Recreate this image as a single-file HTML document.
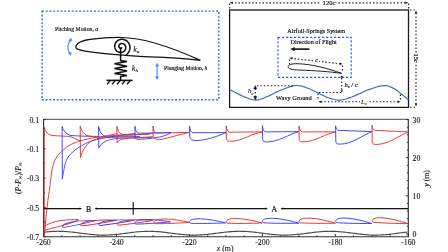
<!DOCTYPE html>
<html><head><meta charset="utf-8"><style>
html,body{margin:0;padding:0;background:#fff;width:448px;height:252px;overflow:hidden}
svg{display:block}
.t{font-family:"Liberation Serif","Times New Roman",serif;fill:#111;stroke:#111;stroke-width:0.18px}
.t2{font-family:"Liberation Serif","Times New Roman",serif;fill:#111;stroke:#111;stroke-width:0.1px}
</style></head><body>
<svg width="448" height="252" viewBox="0 0 448 252">
<rect x="42.1" y="11.1" width="176.7" height="88.7" fill="none" stroke="#3f6fc8" stroke-width="1.4" stroke-dasharray="2 1.7"/>
<text x="55" y="30.8" class="t" font-size="6.8" textLength="43.3" lengthAdjust="spacingAndGlyphs">Pitching Motion, <tspan font-style="italic">α</tspan></text>
<path d="M75.8,47.3 C76,43 82,40.5 90,39.3 C100,38 110,37.4 121,37.5 C141,37.7 170,46.5 200.4,60.4 C185,58.5 165,57.3 150,56.9 C135,56.3 120,55.2 110,54.2 C100,53.2 90,51.9 85,51.1 C79,50.1 75.6,49 75.8,47.3 Z" fill="none" stroke="#111" stroke-width="1.25"/>
<polyline points="121.84,47.35 121.84,47.43 121.83,47.51 121.81,47.60 121.78,47.68 121.74,47.76 121.69,47.85 121.63,47.93 121.56,48.00 121.47,48.07 121.38,48.13 121.28,48.19 121.17,48.24 121.06,48.28 120.93,48.31 120.80,48.32 120.67,48.33 120.53,48.32 120.39,48.30 120.25,48.26 120.11,48.21 119.97,48.15 119.83,48.07 119.69,47.98 119.56,47.87 119.44,47.75 119.33,47.62 119.23,47.47 119.13,47.32 119.05,47.15 118.99,46.97 118.94,46.78 118.90,46.58 118.88,46.38 118.88,46.17 118.90,45.96 118.93,45.74 118.99,45.53 119.06,45.32 119.15,45.11 119.27,44.90 119.40,44.70 119.55,44.52 119.72,44.34 119.91,44.17 120.11,44.02 120.33,43.88 120.56,43.76 120.81,43.66 121.07,43.57 121.34,43.51 121.61,43.47 121.90,43.46 122.19,43.46 122.48,43.50 122.77,43.55 123.06,43.63 123.35,43.74 123.63,43.87 123.90,44.03 124.16,44.21 124.41,44.42 124.64,44.64 124.86,44.89 125.06,45.16 125.24,45.45 125.39,45.76 125.52,46.08 125.63,46.42 125.71,46.77 125.76,47.12 125.78,47.49 125.77,47.86 125.73,48.23 125.66,48.60 125.55,48.97 125.42,49.33 125.26,49.69 125.06,50.03 124.83,50.36 124.58,50.67 124.30,50.97 123.99,51.24 123.66,51.49 123.30,51.72 122.92,51.91 122.53,52.08 122.11,52.21 121.69,52.32 121.25,52.38 120.81,52.42 120.35,52.41 119.90,52.37 119.45,52.29 119.00,52.17 118.56,52.02 118.13,51.83 117.71,51.60 117.31,51.33 116.92,51.03 116.56,50.70 116.23,50.34 115.92,49.95 115.64,49.53 115.40,49.08 115.19,48.62 115.02,48.13 114.89,47.63 114.80,47.11 114.75,46.58 114.74,46.05 114.78,45.52 114.86,44.98 114.99,44.45 115.15,43.93 115.37,43.41 115.62,42.92 115.92,42.44 116.26,41.98 116.63,41.55 117.05,41.15 117.49,40.78 117.97,40.45 118.48,40.15 119.02,39.90 119.58,39.68 120.15,39.52 120.75,39.39 121.35,39.32 121.97,39.30 122.59,39.32 123.20,39.40 123.82,39.52 124.42,39.70 125.02,39.93 125.60,40.20 126.15,40.53 126.69,40.90 127.19,41.31 127.66,41.77 128.10,42.27 128.50,42.81 128.85,43.38 129.16,43.98 129.42,44.60 129.63,45.25 129.79,45.92 129.90,46.61 129.95,47.30 129.94,48.00 129.87,48.70 129.75,49.40 129.58,50.09 129.34,50.77 129.05,51.43 128.70,52.07 128.31,52.68 127.86,53.27 127.36,53.81 126.81,54.32 126.23,54.79" fill="none" stroke="#111" stroke-width="1.55"/>
<path d="M120.6,47.5 L120.6,60.6 L127,61.5 L114.5,63.8 L127,66.2 L114.5,68.6 L127,71 L114.5,73.4 L127,75.6 L120.6,76.6 L120.6,80.3" fill="none" stroke="#111" stroke-width="1.5" stroke-linejoin="miter"/>
<path d="M106.5,80.4 L132.6,80.4" stroke="#111" stroke-width="1.6"/>
<path d="M110.2,80.6 L107.0,84.2" stroke="#111" stroke-width="1.35"/>
<path d="M115.2,80.6 L112.0,84.2" stroke="#111" stroke-width="1.35"/>
<path d="M120.2,80.6 L117.0,84.2" stroke="#111" stroke-width="1.35"/>
<path d="M125.2,80.6 L122.0,84.2" stroke="#111" stroke-width="1.35"/>
<path d="M130.2,80.6 L126.99999999999999,84.2" stroke="#111" stroke-width="1.35"/>
<text x="133.2" y="51.6" class="t2" font-size="8.2" font-style="italic">k<tspan font-size="5" dy="1.2">α</tspan></text>
<text x="131.8" y="71.2" class="t2" font-size="8.2" font-style="italic">k<tspan font-size="5" dy="1.2">h</tspan></text>
<text x="164.1" y="69.9" class="t" font-size="6.0" textLength="43.2" lengthAdjust="spacingAndGlyphs">Plunging Motion, <tspan font-style="italic">h</tspan></text>
<path d="M70.3,40.2 Q65.6,47 69.9,53.8" fill="none" stroke="#4b8ff2" stroke-width="1.2"/>
<path d="M71.3,38.3 L68.5,40.3 L71.5,41.3 Z M70.8,55.3 L68.3,53.2 L71.3,52.5 Z" fill="#4b8ff2" stroke="#4b8ff2" stroke-width="0.5" stroke-linejoin="round"/>
<path d="M157.1,65 L157.1,77.8" stroke="#4b8ff2" stroke-width="1.2"/>
<path d="M157.1,63.2 L155.5,66.2 L158.7,66.2 Z M157.1,79.6 L155.5,76.6 L158.7,76.6 Z" fill="#4b8ff2" stroke="#4b8ff2" stroke-width="0.5" stroke-linejoin="round"/>
<rect x="229.6" y="10" width="178.9" height="97.4" fill="none" stroke="#1a1a1a" stroke-width="1.3"/>
<path d="M231.5,2.8 L406,2.8" stroke="#222" stroke-width="1.15" stroke-dasharray="1.5 1.95"/>
<path d="M229.8,2.8 L232.8,1.5 L232.8,4.1 Z M408.2,2.8 L405.2,1.5 L405.2,4.1 Z" fill="#222"/>
<path d="M229.6,3.5 L229.6,9.2 M408.6,3.5 L408.6,9.2" stroke="#222" stroke-width="1.15" stroke-dasharray="1.5 1.95"/>
<rect x="320.8" y="0" width="15.6" height="5.5" fill="#fff"/>
<text x="329" y="4.7" class="t" font-size="6.6" text-anchor="middle">120<tspan font-style="italic">c</tspan></text>
<path d="M410,10 L416,10 M410,107.2 L416,107.2" stroke="#222" stroke-width="1.15" stroke-dasharray="1.5 1.95"/>
<path d="M416,13 L416,104.5" stroke="#222" stroke-width="1.15" stroke-dasharray="1.5 1.95"/>
<path d="M416,10.6 L414.7,13.4 L417.3,13.4 Z M416,106.4 L414.7,103.6 L417.3,103.6 Z" fill="#222"/>
<rect x="413" y="53.3" width="6" height="9.5" fill="#fff"/>
<text x="0" y="0" class="t" font-size="6.4" text-anchor="middle" transform="translate(413.9,58.1) rotate(90)">15<tspan font-style="italic">c</tspan></text>
<text x="287.3" y="33.4" class="t" font-size="6.2" textLength="57.8" lengthAdjust="spacingAndGlyphs">Airfoil-Springs System</text>
<rect x="278" y="37.4" width="73.2" height="39.9" fill="none" stroke="#3563c0" stroke-width="1.15" stroke-dasharray="2.3 1.7"/>
<text x="290.5" y="44" class="t" font-size="6.4" textLength="46.2" lengthAdjust="spacingAndGlyphs">Direction of Flight</text>
<path d="M293,49.1 L309.3,49.1" stroke="#111" stroke-width="1.6"/>
<path d="M290.3,49.1 L294.6,46.9 L294.6,51.3 Z" fill="#111"/>
<path d="M288.1,66.4 C288.5,64.5 292,63.7 297,63.7 C312,64 328,68.5 341.7,73.4 C330,71.6 315,70.6 300,70.1 C292,69.9 288,69 288.1,66.4 Z" fill="none" stroke="#222" stroke-width="1"/>
<path d="M291,58.3 L341,63.9" stroke="#222" stroke-width="1.15" stroke-dasharray="1.5 1.95"/>
<path d="M289.5,58.1 L292.5,57.1 L292.2,59.7 Z M342.6,64.1 L339.6,65.1 L339.9,62.5 Z" fill="#222"/>
<path d="M289.6,59.5 L289.6,65.5 M342.5,65.5 L342.5,72.5" stroke="#222" stroke-width="1.15" stroke-dasharray="1.5 1.95"/>
<rect x="314.5" y="57" width="4.5" height="5" fill="#fff"/>
<text x="316.7" y="61.6" class="t" font-size="6.6" text-anchor="middle" font-style="italic">c</text>
<circle cx="341.7" cy="76.7" r="1" fill="#111"/>
<polyline points="229.60,89.40 231.06,90.17 233.09,91.27 235.49,92.56 238.07,93.90 240.63,95.16 243.00,96.20 245.20,97.11 247.40,98.00 249.59,98.82 251.76,99.49 253.90,99.93 256.00,100.10 258.06,99.92 260.07,99.44 262.06,98.75 264.04,97.92 266.01,97.04 268.00,96.20 269.96,95.35 271.87,94.41 273.78,93.42 275.73,92.41 277.79,91.43 280.00,90.50 282.43,89.54 285.05,88.49 287.77,87.47 290.50,86.56 293.14,85.87 295.60,85.50 297.88,85.49 300.06,85.79 302.15,86.30 304.16,86.94 306.11,87.64 308.00,88.30 309.79,88.96 311.47,89.68 313.09,90.46 314.68,91.26 316.30,92.08 318.00,92.90 319.78,93.76 321.60,94.67 323.45,95.61 325.31,96.50 327.17,97.32 329.00,98.00 330.82,98.58 332.64,99.09 334.45,99.53 336.25,99.85 338.04,100.05 339.80,100.10 341.54,99.97 343.25,99.67 344.95,99.24 346.64,98.72 348.32,98.16 350.00,97.60 351.70,97.00 353.42,96.33 355.14,95.62 356.82,94.89 358.45,94.17 360.00,93.50 361.36,92.88 362.53,92.29 363.64,91.72 364.83,91.14 366.24,90.54 368.00,89.90 370.25,89.13 372.90,88.21 375.76,87.28 378.66,86.44 381.40,85.81 383.80,85.50 385.86,85.56 387.73,85.90 389.45,86.45 391.04,87.13 392.55,87.88 394.00,88.60 395.35,89.34 396.56,90.16 397.68,91.03 398.76,91.94 399.85,92.87 401.00,93.80 402.30,94.80 403.71,95.90 405.14,97.03 406.47,98.07 407.59,98.96 408.40,99.60" fill="none" stroke="#3f6fc8" stroke-width="1.2"/>
<path d="M255.3,88.5 L255.3,97" stroke="#222" stroke-width="1.15" stroke-dasharray="1.5 1.95"/>
<path d="M255.3,85.6 L253.8,88.9 L256.8,88.9 Z M255.3,99.8 L253.8,96.5 L256.8,96.5 Z" fill="#111" stroke="#111" stroke-width="0.5" stroke-linejoin="round"/>
<path d="M257,85.7 L295,85.7" stroke="#222" stroke-width="1.15" stroke-dasharray="1.5 1.95"/>
<text x="247.9" y="93.4" class="t2" font-size="6.6" font-style="italic">h<tspan font-size="4.6" dy="1.4">c</tspan></text>
<text x="276.1" y="99.8" class="t" font-size="6.4" textLength="35.6" lengthAdjust="spacingAndGlyphs">Wavy Ground</text>
<path d="M341.7,78 L341.7,91.5 M319,92.5 L341.7,92.5" stroke="#222" stroke-width="1.15" stroke-dasharray="1.5 1.95"/>
<path d="M341.7,92.6 L340.5,90.2 L342.9,90.2 Z" fill="#222"/>
<text x="344.4" y="86.8" class="t" font-size="6.6" font-style="italic">h<tspan font-size="4.6" dy="1.4">s</tspan><tspan font-style="normal" dy="-1.4"> / </tspan>c</text>
<path d="M318,93.5 L318,100.5 M321,101.7 L399.8,101.7 M400.4,94.6 L400.4,101.2" stroke="#222" stroke-width="1.15" stroke-dasharray="1.5 1.95"/>
<path d="M318.3,101.7 L321.3,100.4 L321.3,103 Z M400.6,101.7 L397.6,100.4 L397.6,103 Z" fill="#222"/>
<rect x="360" y="99" width="7" height="6" fill="#fff"/>
<text x="361" y="103.7" class="t2" font-size="6.6" font-style="italic">L<tspan font-size="4.6" dy="1.4">c</tspan></text>
<path d="M43.6,119.39999999999999 L408.3,119.39999999999999" stroke="#6e6e6e" stroke-width="1.1"/>
<path d="M43.6,118.89999999999999 L43.6,236.7 L408.3,236.7 L408.3,118.89999999999999" fill="none" stroke="#333" stroke-width="1.15"/>
<path d="M43.60,236.7 L43.60,234.1" stroke="#222" stroke-width="0.9"/>
<path d="M61.84,236.7 L61.84,235.2" stroke="#222" stroke-width="0.9"/>
<path d="M80.07,236.7 L80.07,235.2" stroke="#222" stroke-width="0.9"/>
<path d="M98.31,236.7 L98.31,235.2" stroke="#222" stroke-width="0.9"/>
<path d="M116.54,236.7 L116.54,234.1" stroke="#222" stroke-width="0.9"/>
<path d="M134.78,236.7 L134.78,235.2" stroke="#222" stroke-width="0.9"/>
<path d="M153.01,236.7 L153.01,235.2" stroke="#222" stroke-width="0.9"/>
<path d="M171.25,236.7 L171.25,235.2" stroke="#222" stroke-width="0.9"/>
<path d="M189.48,236.7 L189.48,234.1" stroke="#222" stroke-width="0.9"/>
<path d="M207.71,236.7 L207.71,235.2" stroke="#222" stroke-width="0.9"/>
<path d="M225.95,236.7 L225.95,235.2" stroke="#222" stroke-width="0.9"/>
<path d="M244.18,236.7 L244.18,235.2" stroke="#222" stroke-width="0.9"/>
<path d="M262.42,236.7 L262.42,234.1" stroke="#222" stroke-width="0.9"/>
<path d="M280.65,236.7 L280.65,235.2" stroke="#222" stroke-width="0.9"/>
<path d="M298.89,236.7 L298.89,235.2" stroke="#222" stroke-width="0.9"/>
<path d="M317.12,236.7 L317.12,235.2" stroke="#222" stroke-width="0.9"/>
<path d="M335.36,236.7 L335.36,234.1" stroke="#222" stroke-width="0.9"/>
<path d="M353.60,236.7 L353.60,235.2" stroke="#222" stroke-width="0.9"/>
<path d="M371.83,236.7 L371.83,235.2" stroke="#222" stroke-width="0.9"/>
<path d="M390.06,236.7 L390.06,235.2" stroke="#222" stroke-width="0.9"/>
<path d="M408.30,236.7 L408.30,234.1" stroke="#222" stroke-width="0.9"/>
<text x="43.60" y="244.9" class="t2" font-size="7.8" text-anchor="middle">-260</text>
<text x="116.54" y="244.9" class="t2" font-size="7.8" text-anchor="middle">-240</text>
<text x="189.48" y="244.9" class="t2" font-size="7.8" text-anchor="middle">-220</text>
<text x="262.42" y="244.9" class="t2" font-size="7.8" text-anchor="middle">-200</text>
<text x="335.36" y="244.9" class="t2" font-size="7.8" text-anchor="middle">-180</text>
<text x="408.30" y="244.9" class="t2" font-size="7.8" text-anchor="middle">-160</text>
<text x="216.8" y="250.8" class="t2" font-size="7.8"><tspan font-style="italic">x</tspan> (m)</text>
<path d="M43.6,119.60 L45.800000000000004,119.60" stroke="#222" stroke-width="0.9"/>
<path d="M43.6,134.24 L45.0,134.24" stroke="#222" stroke-width="0.9"/>
<path d="M43.6,148.88 L45.800000000000004,148.88" stroke="#222" stroke-width="0.9"/>
<path d="M43.6,163.52 L45.0,163.52" stroke="#222" stroke-width="0.9"/>
<path d="M43.6,178.16 L45.800000000000004,178.16" stroke="#222" stroke-width="0.9"/>
<path d="M43.6,192.80 L45.0,192.80" stroke="#222" stroke-width="0.9"/>
<path d="M43.6,207.44 L45.800000000000004,207.44" stroke="#222" stroke-width="0.9"/>
<path d="M43.6,222.08 L45.0,222.08" stroke="#222" stroke-width="0.9"/>
<path d="M43.6,236.72 L45.800000000000004,236.72" stroke="#222" stroke-width="0.9"/>
<text x="39.2" y="122.70" class="t2" font-size="7.8" text-anchor="end">0.1</text>
<text x="39.2" y="151.98" class="t2" font-size="7.8" text-anchor="end">-0.1</text>
<text x="39.2" y="181.26" class="t2" font-size="7.8" text-anchor="end">-0.3</text>
<text x="39.2" y="210.54" class="t2" font-size="7.8" text-anchor="end">-0.5</text>
<text x="39.2" y="239.82" class="t2" font-size="7.8" text-anchor="end">-0.7</text>
<text x="0" y="0" class="t2" font-size="7.8" text-anchor="middle" transform="translate(20.8,178.2) rotate(-90)">(<tspan font-style="italic">P</tspan>-<tspan font-style="italic">P</tspan><tspan font-size="5.2" dy="1.5">∞</tspan><tspan dy="-1.5">)/</tspan><tspan font-style="italic">P</tspan><tspan font-size="5.2" dy="1.5">∞</tspan></text>
<path d="M408.3,119.60 L405.90000000000003,119.60" stroke="#222" stroke-width="0.9"/>
<path d="M408.3,127.22 L406.90000000000003,127.22" stroke="#222" stroke-width="0.9"/>
<path d="M408.3,134.84 L406.90000000000003,134.84" stroke="#222" stroke-width="0.9"/>
<path d="M408.3,142.46 L406.90000000000003,142.46" stroke="#222" stroke-width="0.9"/>
<path d="M408.3,150.08 L406.90000000000003,150.08" stroke="#222" stroke-width="0.9"/>
<path d="M408.3,157.70 L405.90000000000003,157.70" stroke="#222" stroke-width="0.9"/>
<path d="M408.3,165.32 L406.90000000000003,165.32" stroke="#222" stroke-width="0.9"/>
<path d="M408.3,172.94 L406.90000000000003,172.94" stroke="#222" stroke-width="0.9"/>
<path d="M408.3,180.56 L406.90000000000003,180.56" stroke="#222" stroke-width="0.9"/>
<path d="M408.3,188.18 L406.90000000000003,188.18" stroke="#222" stroke-width="0.9"/>
<path d="M408.3,195.80 L405.90000000000003,195.80" stroke="#222" stroke-width="0.9"/>
<path d="M408.3,203.42 L406.90000000000003,203.42" stroke="#222" stroke-width="0.9"/>
<path d="M408.3,211.04 L406.90000000000003,211.04" stroke="#222" stroke-width="0.9"/>
<path d="M408.3,218.66 L406.90000000000003,218.66" stroke="#222" stroke-width="0.9"/>
<path d="M408.3,226.28 L406.90000000000003,226.28" stroke="#222" stroke-width="0.9"/>
<path d="M408.3,233.90 L405.90000000000003,233.90" stroke="#222" stroke-width="0.9"/>
<text x="412.6" y="122.50" class="t2" font-size="7.8">30</text>
<text x="412.6" y="160.60" class="t2" font-size="7.8">20</text>
<text x="412.6" y="198.70" class="t2" font-size="7.8">10</text>
<text x="412.6" y="236.80" class="t2" font-size="7.8">0</text>
<text x="0" y="0" class="t2" font-size="7.8" text-anchor="middle" transform="translate(429.3,178.4) rotate(-90)"><tspan font-style="italic">y</tspan> (m)</text>
<path d="M226.2,125.8 C226.6,128.8 227.2,132.0 229.7,132.2 L262.7,131.9 M226.2,125.8 L226.4,138.8 C226.6,141.0 228.2,141.4 231.2,141.3 C242.2,141.1 253.2,132.8 262.7,131.9" fill="none" stroke="#e83232" stroke-width="0.95"/>
<path d="M262.4,125.6 C262.8,128.6 263.4,131.7 265.9,131.9 L298.9,131.6 M262.4,125.6 L262.6,139.4 C262.8,141.6 264.4,142.0 267.4,141.9 C278.4,141.8 289.4,134.2 298.9,131.6" fill="none" stroke="#3840f8" stroke-width="0.95"/>
<path d="M299.0,125.8 C299.4,128.8 300.0,131.7 302.5,131.9 L335.5,131.9 M299.0,125.8 L299.2,139.4 C299.4,141.6 301.0,142.0 304.0,141.9 C315.0,141.7 326.1,133.4 335.5,131.9" fill="none" stroke="#e83232" stroke-width="0.95"/>
<path d="M335.6,125.8 C336.0,128.8 336.6,130.2 339.1,130.4 L372.1,131.6 M335.6,125.8 L335.8,141.6 C336.0,143.8 337.6,144.2 340.6,144.1 C351.6,144.1 362.7,135.3 372.1,131.6" fill="none" stroke="#3840f8" stroke-width="0.95"/>
<path d="M372.0,125.2 C372.4,128.2 373.0,130.2 375.5,130.4 L408.5,131.9 M372.0,125.2 L372.2,141.9 C372.4,144.1 374.0,144.5 377.0,144.4 C388.0,144.4 399.1,135.7 408.5,131.9" fill="none" stroke="#e83232" stroke-width="0.95"/>
<path d="M153.0,126 L153.2,136.3 C154,139 157,139.8 160,139.7 C170,137.5 180,134.5 189.2,132.4 M153.0,126 C153.4,130 154,132.6 156,133 L189.2,132.4" fill="none" stroke="#e83232" stroke-width="0.95"/>
<path d="M189.5,126 C189.9,129 190.5,132.4 193,132.7 L226,132.6 M189.5,126 L189.7,136.5 C190,139.5 192.5,140.7 197,140.6 C206,140 216,137 226,132.6" fill="none" stroke="#3840f8" stroke-width="0.95"/>
<path d="M44.3,127.4 C45.5,132 48,134.8 52,135.4 C58,136.1 66,136 70,136.6 C74,137.8 77,139.5 80.2,140.8" fill="none" stroke="#e83232" stroke-width="0.95"/>
<path d="M43.9,127.4 L43.9,236.4" fill="none" stroke="#b01c1c" stroke-width="1.3"/>
<polyline points="44.70,235.00 44.81,233.25 44.97,230.78 45.16,227.90 45.37,224.87 45.60,222.00 45.85,219.23 46.12,216.38 46.41,213.50 46.71,210.69 47.00,208.00 47.30,205.39 47.61,202.82 47.92,200.34 48.22,198.05 48.50,196.00 48.75,194.31 48.97,192.94 49.18,191.70 49.39,190.45 49.60,189.00 49.82,187.34 50.03,185.59 50.25,183.77 50.47,181.90 50.70,180.00 50.92,178.06 51.13,176.06 51.36,174.03 51.63,172.00 52.00,170.00 52.44,167.99 52.94,165.94 53.51,163.92 54.16,161.99 54.90,160.20 55.81,158.51 56.87,156.88 57.99,155.38 59.03,154.07 59.90,153.00 60.50,152.31 60.89,151.96 61.23,151.75 61.66,151.50 62.30,151.00 63.21,150.19 64.29,149.20 65.47,148.12 66.70,147.09 67.90,146.20 69.09,145.47 70.32,144.83 71.56,144.25 72.79,143.71 74.00,143.20 75.17,142.72 76.32,142.28 77.47,141.88 78.62,141.49 79.80,141.10 80.99,140.72 82.18,140.35 83.39,139.99 84.66,139.64 86.00,139.30 87.39,138.97 88.80,138.64 90.29,138.32 91.91,138.01 93.70,137.70 95.67,137.39 97.78,137.07 100.04,136.77 102.45,136.47 105.00,136.20 107.52,135.95 110.01,135.72 112.74,135.51 115.98,135.30 120.00,135.10 125.52,134.89 132.36,134.68 139.44,134.49 145.68,134.32 150.00,134.20" fill="none" stroke="#e83232" stroke-width="0.95"/>
<path d="M62.1,126.4 C63,130.5 66,134 70,135.3 C75,136.1 85,136.2 98.6,136.4" fill="none" stroke="#3840f8" stroke-width="0.95"/>
<path d="M62.1,126.4 L62.3,179" fill="none" stroke="#3840f8" stroke-width="0.95"/>
<polyline points="62.30,179.00 62.51,177.73 62.81,175.92 63.16,173.82 63.54,171.70 63.90,169.80 64.24,168.12 64.58,166.49 64.94,164.92 65.34,163.42 65.80,162.00 66.31,160.67 66.86,159.42 67.46,158.24 68.13,157.11 68.90,156.00 69.78,154.92 70.76,153.89 71.81,152.89 72.90,151.93 74.00,151.00 75.05,150.12 76.07,149.31 77.15,148.51 78.37,147.68 79.80,146.80 81.48,145.81 83.36,144.74 85.39,143.65 87.52,142.62 89.70,141.70 91.94,140.89 94.29,140.15 96.71,139.48 99.18,138.90 101.70,138.40 104.09,138.02 106.36,137.75 108.78,137.55 111.57,137.38 115.00,137.20 119.65,137.00 125.36,136.81 131.24,136.64 136.41,136.50 140.00,136.40" fill="none" stroke="#3840f8" stroke-width="0.95"/>
<path d="M80.2,126.1 C81,130 83,133 86.3,135.2 C90,136.6 95,137.2 99.7,137.2 C105,136.8 110,135 116.8,133.6" fill="none" stroke="#e83232" stroke-width="0.95"/>
<path d="M80.2,126.1 L80.4,157.6 C81.5,153 84,148 89.4,142.2 C93,139.8 98,138.3 103.8,137.4 C110,136.5 118,136.3 128,136.1" fill="none" stroke="#e83232" stroke-width="0.95"/>
<path d="M98.6,126.5 C99.5,130 100.5,133 102,134.3 C104,136 106,136.9 108,137 C115,136.5 125,134.5 135,133.5" fill="none" stroke="#3840f8" stroke-width="0.95"/>
<path d="M98.6,126.5 L98.8,147.8 C100,145.5 102,143 106,141 C110,139.3 116,138.4 124,138 C135,137.8 145,137.6 152,137.2" fill="none" stroke="#3840f8" stroke-width="0.95"/>
<path d="M116.9,126.3 C117.6,130 118.8,132.5 121,133.8 C124,135 128,135.4 132,135.2 C140,134.6 147,133.6 153.2,133" fill="none" stroke="#e83232" stroke-width="0.95"/>
<path d="M116.9,126.3 L117.1,142.7 C118.3,140.8 120.5,139.5 124,138.8 C130,138 138,137.6 146,137.2 C150,137 152,136.9 153.2,136.6" fill="none" stroke="#e83232" stroke-width="0.95"/>
<path d="M135.0,126.3 C135.5,130 136.2,132.5 138,133.2 C145,133.3 155,133 171,132.5" fill="none" stroke="#3840f8" stroke-width="0.95"/>
<path d="M135.0,126.3 L135.1,138.2 C136,139.3 138,139.4 141,139.2 C148,138.8 155,138 160,137 C165,135.8 168,134.3 171,132.6" fill="none" stroke="#3840f8" stroke-width="0.95"/>
<path d="M44,208.6 L80.5,208.6 M95.5,208.6 L266.5,208.6 M281.5,208.6 L408,208.6" stroke="#111" stroke-width="1.15"/>
<path d="M82,208.6 L79.5,207.4 L79.5,209.8 Z M94.6,208.6 L97.1,207.4 L97.1,209.8 Z M267.8,208.6 L265.3,207.4 L265.3,209.8 Z M280.6,208.6 L283.1,207.4 L283.1,209.8 Z" fill="#111"/>
<path d="M133.2,202 L133.2,214.8" stroke="#111" stroke-width="1.15"/>
<text x="88.5" y="211.9" class="t" font-size="7.8" text-anchor="middle">B</text>
<text x="274.2" y="211.7" class="t" font-size="7.8" text-anchor="middle">A</text>
<polyline points="44.2,232.15 45.7,231.99 47.2,231.84 48.7,231.71 50.2,231.60 51.7,231.50 53.2,231.42 54.7,231.36 56.2,231.32 57.7,231.30 59.2,231.30 60.7,231.32 62.2,231.37 63.7,231.43 65.2,231.51 66.7,231.61 68.2,231.72 69.7,231.85 71.2,232.00 72.7,232.16 74.2,232.33 75.7,232.51 77.2,232.70 78.7,232.89 80.2,233.09 81.7,233.29 83.2,233.48 84.7,233.68 86.2,233.86 87.7,234.05 89.2,234.22 90.7,234.38 92.2,234.53 93.7,234.66 95.2,234.78 96.7,234.88 98.2,234.96 99.7,235.03 101.2,235.07 102.7,235.10 104.2,235.10 105.7,235.08 107.2,235.04 108.7,234.99 110.2,234.91 111.7,234.82 113.2,234.70 114.7,234.57 116.2,234.43 117.7,234.27 119.2,234.10 120.7,233.93 122.2,233.74 123.7,233.55 125.2,233.35 126.7,233.15 128.2,232.96 129.7,232.76 131.2,232.57 132.7,232.39 134.2,232.22 135.7,232.05 137.2,231.90 138.7,231.76 140.2,231.64 141.7,231.54 143.2,231.45 144.7,231.38 146.2,231.34 147.7,231.31 149.2,231.30 150.7,231.31 152.2,231.35 153.7,231.40 155.2,231.47 156.7,231.56 158.2,231.67 159.7,231.80 161.2,231.94 162.7,232.09 164.2,232.26 165.7,232.44 167.2,232.62 168.7,232.81 170.2,233.01 171.7,233.21 173.2,233.40 174.7,233.60 176.2,233.79 177.7,233.97 179.2,234.15 180.7,234.32 182.2,234.47 183.7,234.61 185.2,234.73 186.7,234.84 188.2,234.93 189.7,235.00 191.2,235.06 192.7,235.09 194.2,235.10 195.7,235.09 197.2,235.06 198.7,235.01 200.2,234.94 201.7,234.86 203.2,234.75 204.7,234.63 206.2,234.49 207.7,234.34 209.2,234.17 210.7,234.00 212.2,233.81 213.7,233.62 215.2,233.43 216.7,233.23 218.2,233.04 219.7,232.84 221.2,232.65 222.7,232.46 224.2,232.28 225.7,232.12 227.2,231.96 228.7,231.82 230.2,231.69 231.7,231.58 233.2,231.48 234.7,231.41 236.2,231.35 237.7,231.32 239.2,231.30 240.7,231.31 242.2,231.33 243.7,231.38 245.2,231.44 246.7,231.53 248.2,231.63 249.7,231.75 251.2,231.88 252.7,232.03 254.2,232.19 255.7,232.37 257.2,232.55 258.7,232.74 260.2,232.93 261.7,233.13 263.2,233.33 264.7,233.52 266.2,233.71 267.7,233.90 269.2,234.08 270.7,234.25 272.2,234.41 273.7,234.56 275.2,234.69 276.7,234.80 278.2,234.90 279.7,234.98 281.2,235.04 282.7,235.08 284.2,235.10 285.7,235.10 287.2,235.08 288.7,235.03 290.2,234.97 291.7,234.89 293.2,234.79 294.7,234.68 296.2,234.55 297.7,234.40 299.2,234.24 300.7,234.07 302.2,233.89 303.7,233.70 305.2,233.51 306.7,233.31 308.2,233.11 309.7,232.92 311.2,232.72 312.7,232.54 314.2,232.35 315.7,232.18 317.2,232.02 318.7,231.87 320.2,231.74 321.7,231.62 323.2,231.52 324.7,231.44 326.2,231.37 327.7,231.33 329.2,231.30 330.7,231.30 332.2,231.32 333.7,231.36 335.2,231.41 336.7,231.49 338.2,231.58 339.7,231.70 341.2,231.83 342.7,231.97 344.2,232.13 345.7,232.30 347.2,232.47 348.7,232.66 350.2,232.85 351.7,233.05 353.2,233.25 354.7,233.44 356.2,233.64 357.7,233.83 359.2,234.01 360.7,234.18 362.2,234.35 363.7,234.50 365.2,234.64 366.7,234.76 368.2,234.86 369.7,234.95 371.2,235.02 372.7,235.06 374.2,235.09 375.7,235.10 377.2,235.09 378.7,235.05 380.2,235.00 381.7,234.93 383.2,234.84 384.7,234.73 386.2,234.60 387.7,234.46 389.2,234.31 390.7,234.14 392.2,233.96 393.7,233.78 395.2,233.59 396.7,233.39 398.2,233.19 399.7,233.00 401.2,232.80 402.7,232.61 404.2,232.43 405.7,232.25 407.2,232.08" fill="none" stroke="#4a4a4a" stroke-width="1.15"/>
<path d="M44.6,226.2 C49,223.4 54,221.6 60,220.7 C67,219.8 73,219.5 78.6,219.6 M44.6,230.2 C52,228.4 60,226.2 66,224.6 C71,223.2 75,221.6 78.6,219.7" fill="none" stroke="#e83232" stroke-width="0.95"/>
<path d="M0,0 C0,-2.10 4.20,-3.00 10.50,-3.00 C19.24,-3.00 27.99,-1.35 34.99,0 C24.49,0.54 10.50,1.05 1.75,0.90 C0.35,0.75 0,0.30 0,0 Z" transform="translate(62.60,226.80) rotate(-10.54)" fill="none" stroke="#3840f8" stroke-width="0.95"/>
<path d="M0,0 C0,-2.10 4.33,-3.00 10.81,-3.00 C19.83,-3.00 28.84,-1.35 36.05,0 C25.23,0.54 10.81,1.05 1.80,0.90 C0.36,0.75 0,0.30 0,0 Z" transform="translate(80.80,225.20) rotate(-7.97)" fill="none" stroke="#e83232" stroke-width="0.95"/>
<path d="M0,0 C0,-2.10 4.31,-3.00 10.76,-3.00 C19.74,-3.00 28.71,-1.35 35.88,0 C25.12,0.54 10.76,1.05 1.79,0.90 C0.36,0.75 0,0.30 0,0 Z" transform="translate(98.90,224.80) rotate(-7.20)" fill="none" stroke="#3840f8" stroke-width="0.95"/>
<path d="M0,0 C0,-2.10 4.30,-3.00 10.75,-3.00 C19.71,-3.00 28.67,-1.35 35.84,0 C25.08,0.54 10.75,1.05 1.79,0.90 C0.36,0.75 0,0.30 0,0 Z" transform="translate(117.40,224.50) rotate(-6.57)" fill="none" stroke="#e83232" stroke-width="0.95"/>
<path d="M0,0 C0,-2.24 4.28,-3.20 10.69,-3.20 C19.60,-3.20 28.50,-1.44 35.63,0 C24.94,0.58 10.69,1.12 1.78,0.96 C0.36,0.80 0,0.32 0,0 Z" transform="translate(134.80,223.20) rotate(-2.25)" fill="none" stroke="#3840f8" stroke-width="0.95"/>
<path d="M0,0 C0,-2.52 4.30,-3.60 10.74,-3.60 C19.69,-3.60 28.64,-1.62 35.80,0 C25.06,0.65 10.74,1.26 1.79,1.08 C0.36,0.90 0,0.36 0,0 Z" transform="translate(153.70,222.60) rotate(-0.32)" fill="none" stroke="#e83232" stroke-width="0.95"/>
<path d="M0,0 C0,-2.52 4.33,-3.60 10.83,-3.60 C19.86,-3.60 28.89,-1.62 36.11,0 C25.27,0.65 10.83,1.26 1.81,1.08 C0.36,0.90 0,0.36 0,0 Z" transform="translate(189.40,222.20) rotate(1.11)" fill="none" stroke="#3840f8" stroke-width="0.95"/>
<path d="M0,0 C0,-2.66 4.32,-3.80 10.80,-3.80 C19.81,-3.80 28.81,-1.71 36.01,0 C25.21,0.68 10.80,1.33 1.80,1.14 C0.36,0.95 0,0.38 0,0 Z" transform="translate(226.20,222.00) rotate(1.59)" fill="none" stroke="#e83232" stroke-width="0.95"/>
<path d="M0,0 C0,-2.66 4.40,-3.80 10.99,-3.80 C20.15,-3.80 29.31,-1.71 36.63,0 C25.64,0.68 10.99,1.33 1.83,1.14 C0.37,0.95 0,0.38 0,0 Z" transform="translate(262.30,221.60) rotate(2.50)" fill="none" stroke="#3840f8" stroke-width="0.95"/>
<path d="M0,0 C0,-2.73 4.40,-3.90 10.99,-3.90 C20.15,-3.90 29.31,-1.75 36.63,0 C25.64,0.70 10.99,1.36 1.83,1.17 C0.37,0.97 0,0.39 0,0 Z" transform="translate(298.90,221.60) rotate(2.50)" fill="none" stroke="#e83232" stroke-width="0.95"/>
<path d="M0,0 C0,-2.73 4.32,-3.90 10.79,-3.90 C19.78,-3.90 28.77,-1.75 35.96,0 C25.17,0.70 10.79,1.36 1.80,1.17 C0.36,0.97 0,0.39 0,0 Z" transform="translate(335.70,221.40) rotate(3.35)" fill="none" stroke="#3840f8" stroke-width="0.95"/>
<path d="M0,0 C0,-2.73 4.33,-3.90 10.83,-3.90 C19.85,-3.90 28.88,-1.75 36.09,0 C25.27,0.70 10.83,1.36 1.80,1.17 C0.36,0.97 0,0.39 0,0 Z" transform="translate(372.00,221.00) rotate(4.13)" fill="none" stroke="#e83232" stroke-width="0.95"/>
</svg>
</body></html>
